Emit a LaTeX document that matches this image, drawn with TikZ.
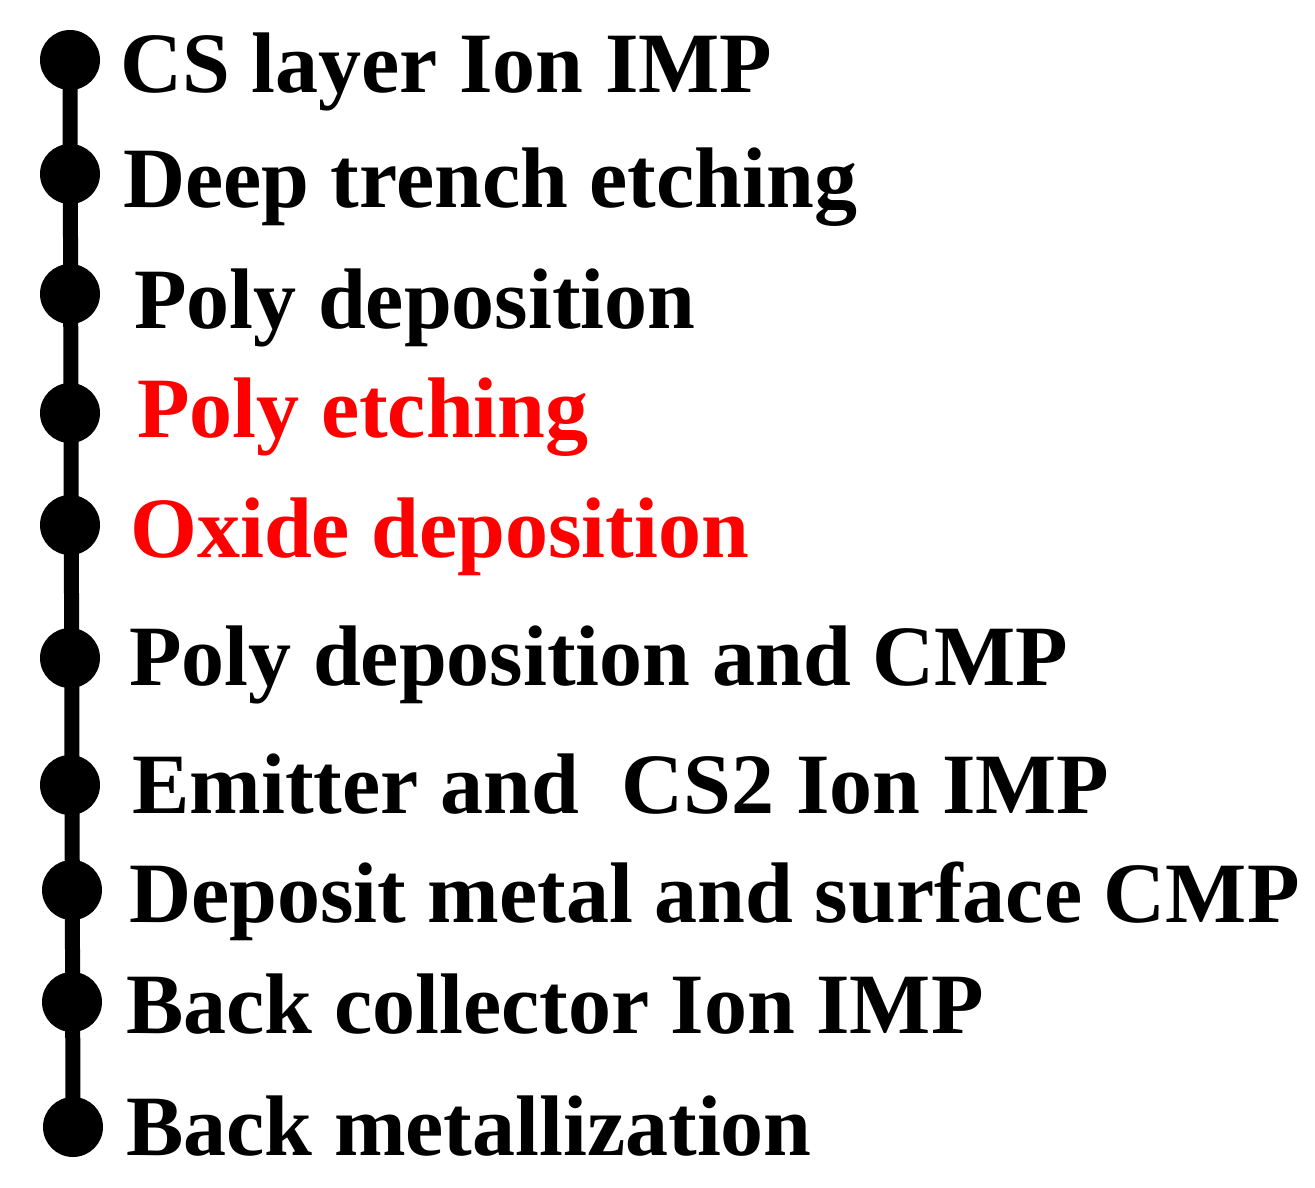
\documentclass[tikz,border=0pt]{standalone}
\usepackage{fontspec}
\setmainfont{Liberation Serif}
\begin{document}
\begin{tikzpicture}[x=1pt,y=-1pt,
  dot/.style={circle,fill=black,minimum size=60pt,inner sep=0pt},
  lbl/.style={anchor=base west,inner sep=0pt,font=\fontsize{86}{100}\selectfont\bfseries},
  hot/.style={lbl,text=red}]
\useasboundingbox[fill=white] (0,0) rectangle (1315,1187);
\node[dot] (d1) at (70,60) {};
\node[dot] (d2) at (70,174) {};
\node[dot] (d3) at (70,294) {};
\node[dot] (d4) at (70,413) {};
\node[dot] (d5) at (70,525) {};
\node[dot] (d6) at (70,658) {};
\node[dot] (d7) at (70,785) {};
\node[dot] (d8) at (72,890) {};
\node[dot] (d9) at (72,1002) {};
\node[dot] (d10) at (73,1127) {};
\draw[line width=15pt] (d1.center) -- (d10.center);
\node[lbl] (t1) at (120,92) {CS layer Ion IMP};
\node[lbl] (t2) at (123,207) {Deep trench etching};
\node[lbl] (t3) at (134,328) {Poly deposition};
\node[hot] (t4) at (137,437) {Poly etching};
\node[hot] (t5) at (130,557) {Oxide deposition};
\node[lbl] (t6) at (129,685) {Poly deposition and CMP};
\node[lbl] (t7) at (132,813) {Emitter and~~CS2 Ion IMP};
\node[lbl] (t8) at (129,922) {Deposit metal and surface CMP};
\node[lbl] (t9) at (126,1033) {Back collector Ion IMP};
\node[lbl] (t10) at (126,1155) {Back metallization};
\end{tikzpicture}
\end{document}
